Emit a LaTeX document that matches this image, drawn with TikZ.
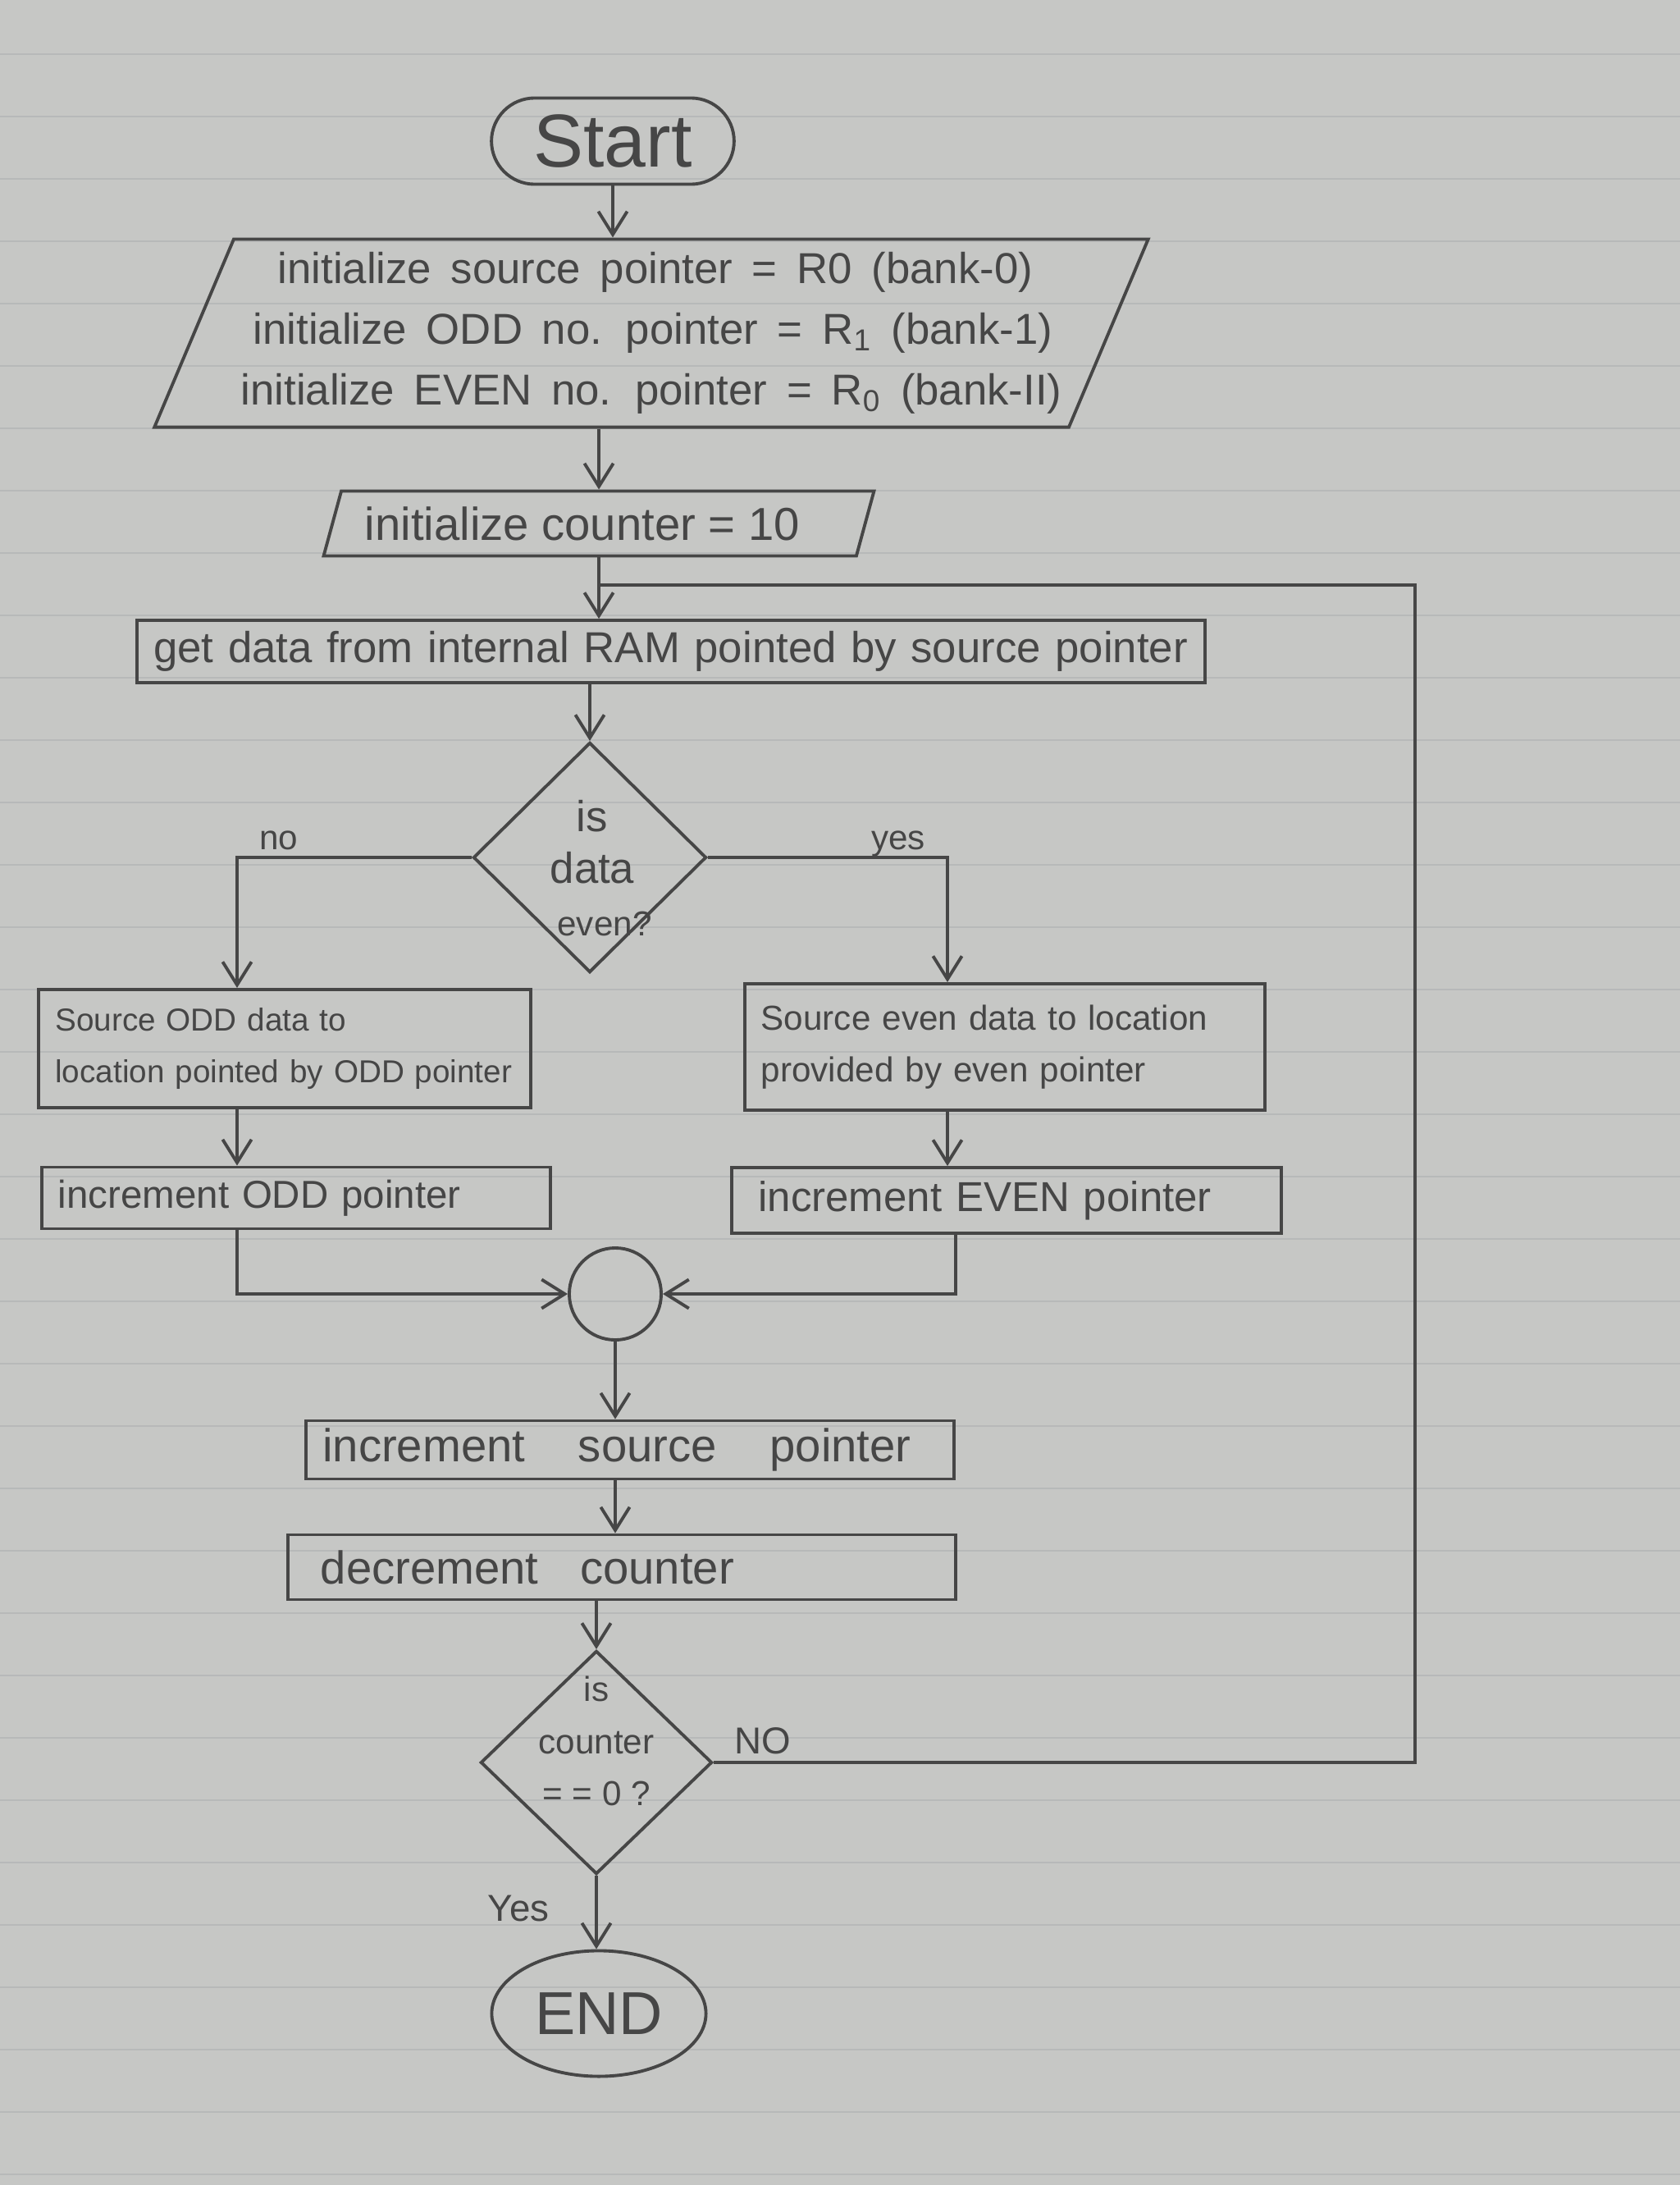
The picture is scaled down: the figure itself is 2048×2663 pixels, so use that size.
\documentclass[tikz,border=0pt]{standalone}
\usepackage{fontspec}
\setmainfont{Liberation Sans}
\usetikzlibrary{shapes.geometric,shapes.misc,arrows.meta,positioning}

\definecolor{paper}{RGB}{198,199,197}
\definecolor{ruled}{RGB}{183,185,185}
\definecolor{pencil}{RGB}{70,70,70}

\newcommand\wordgap[1]{\spaceskip=#1\relax}

\tikzset{
  pen/.style={draw=pencil, line width=1.1pt},
  procbox/.style={pen, rectangle, align=left, inner xsep=0.2cm, inner ysep=1pt, text=pencil},
  iobox/.style={pen, trapezium, trapezium stretches=true, align=left, inner xsep=0pt, inner ysep=1pt, text=pencil},
  decide/.style={pen, diamond, inner sep=0pt},
  dtext/.style={align=center, text=pencil, inner sep=0pt},
  lbl/.style={text=pencil, font=\fontsize{12}{14}\selectfont},
  flow/.style={pen, -{Straight Barb[length=8pt,width=10pt]}},
}

\begin{document}
\begin{tikzpicture}[x=0.01cm,y=-0.01cm]
  % paper
  \fill[paper] (0,0) rectangle (2048,2663);
  \useasboundingbox (0,0) rectangle (2048,2663);
  \foreach \y in {66,142,...,2650}{
    \draw[ruled, line width=0.6pt] (0,\y) -- (2048,\y);
  }

  % terminals and steps
  \node[pen, rounded rectangle, minimum width=3.19cm, minimum height=1.05cm, text=pencil,
        font=\fontsize{26}{30}\selectfont] (start) at (747,172) {Start};
  \node[iobox, trapezium left angle=65, trapezium right angle=115,
        minimum width=12.14cm, minimum height=2.29cm, font=\fontsize{15}{21}\selectfont] (initptr) at (794,406)
        {\wordgap{0.45em}\hspace*{0.45cm}initialize source pointer = R0 (bank-0)\\
         \wordgap{0.45em}\hspace*{0.15cm}initialize ODD no. pointer = R\textsubscript{1} (bank-1)\\
         \wordgap{0.45em}initialize EVEN no. pointer = R\textsubscript{0} (bank-II)};
  \node[iobox, trapezium left angle=68, trapezium right angle=112,
        minimum width=6.71cm, minimum height=0.79cm, font=\fontsize{16}{18}\selectfont] (initcnt) at (730,638)
        {initialize counter = 10\hspace*{0.4cm}};
  \node[procbox, text width=12.61cm, minimum height=0.76cm, font=\fontsize{15}{18}\selectfont] (getdata) at (818,794)
        {get data from internal RAM pointed by source pointer};

  \node[decide, minimum width=2.84cm, minimum height=2.80cm] (iseven) at (719,1045) {};
  \node[dtext, font=\fontsize{15}{18}\selectfont] (iseventxt) at (722,1058)
        {is\\data\\{\fontsize{12}{14}\selectfont\hspace*{0.3cm}even?}};

  \node[procbox, text width=5.59cm, minimum height=1.44cm, font=\fontsize{11}{18}\selectfont] (oddsrc) at (347,1278)
        {Source ODD data to\\location pointed by ODD pointer};
  \node[procbox, text width=5.94cm, minimum height=1.54cm, font=\fontsize{12}{18}\selectfont] (evensrc) at (1225,1276)
        {Source even data to location\\provided by even pointer};
  \node[procbox, text width=5.80cm, minimum height=0.75cm, font=\fontsize{13.5}{16}\selectfont] (oddinc) at (361,1460)
        {increment ODD pointer};
  \node[procbox, text width=6.05cm, inner xsep=0.32cm, minimum height=0.80cm, font=\fontsize{14.5}{16}\selectfont] (eveninc) at (1227,1463)
        {increment EVEN pointer};

  \node[pen, circle, minimum size=1.12cm] (merge) at (750,1577) {};

  \node[procbox, text width=7.49cm, minimum height=0.71cm, font=\fontsize{16}{18}\selectfont] (incsrc) at (768,1767)
        {\wordgap{1.15em}increment source pointer};
  \node[procbox, text width=7.34cm, inner xsep=0.4cm, minimum height=0.79cm, font=\fontsize{16}{18}\selectfont] (deccnt) at (758,1910)
        {\wordgap{0.9em}decrement counter};

  \node[decide, minimum width=2.82cm, minimum height=2.72cm] (iszero) at (727,2148) {};
  \node[dtext, font=\fontsize{12}{18}\selectfont] (iszerotxt) at (727,2122) {is\\counter\\= = 0 ?};

  \node[pen, ellipse, minimum width=2.61cm, minimum height=1.53cm, text=pencil,
        font=\fontsize{21}{24}\selectfont] (finish) at (730,2454) {END};

  % branch labels
  \node[lbl] (nolbl) at (340,1024) {no};
  \node[lbl] (yeslbl) at (1095,1029) {yes};
  \node[lbl, font=\fontsize{13}{15}\selectfont] (nocnt) at (930,2122) {NO};
  \node[lbl, font=\fontsize{13}{15}\selectfont] (yescnt) at (632,2326) {Yes};

  % helper columns
  \coordinate (nobend) at (289,0);
  \coordinate (yesbend) at (1155,0);
  \coordinate (evenback) at (1165,0);
  \coordinate (loopx) at (1725,0);
  \coordinate (join) at (730,713);

  % connectors
  \draw[flow] (start.south) -- (start.south |- initptr.north);
  \draw[flow] (initcnt.north |- initptr.south) -- (initcnt.north);
  \draw[flow] (initcnt.south) -- (initcnt.south |- getdata.north);
  \draw[flow] (iseven.north |- getdata.south) -- (iseven.north);
  \draw[flow] (iseven.west) -| (nobend |- oddsrc.north);
  \draw[flow] (iseven.east) -| (yesbend |- evensrc.north);
  \draw[flow] (nobend |- oddsrc.south) -- (nobend |- oddinc.north);
  \draw[flow] (yesbend |- evensrc.south) -- (yesbend |- eveninc.north);
  \draw[flow] (nobend |- oddinc.south) |- (merge.west);
  \draw[flow] (evenback |- eveninc.south) |- (merge.east);
  \draw[flow] (merge.south) -- (merge.south |- incsrc.north);
  \draw[flow] (merge |- incsrc.south) -- (merge |- deccnt.north);
  \draw[flow] (iszero.north |- deccnt.south) -- (iszero.north);
  \draw[flow] (iszero.south) -- (iszero.south |- finish.north);
  \draw[pen] (iszero.east) -| (loopx |- join) -- (join);
\end{tikzpicture}
\end{document}
